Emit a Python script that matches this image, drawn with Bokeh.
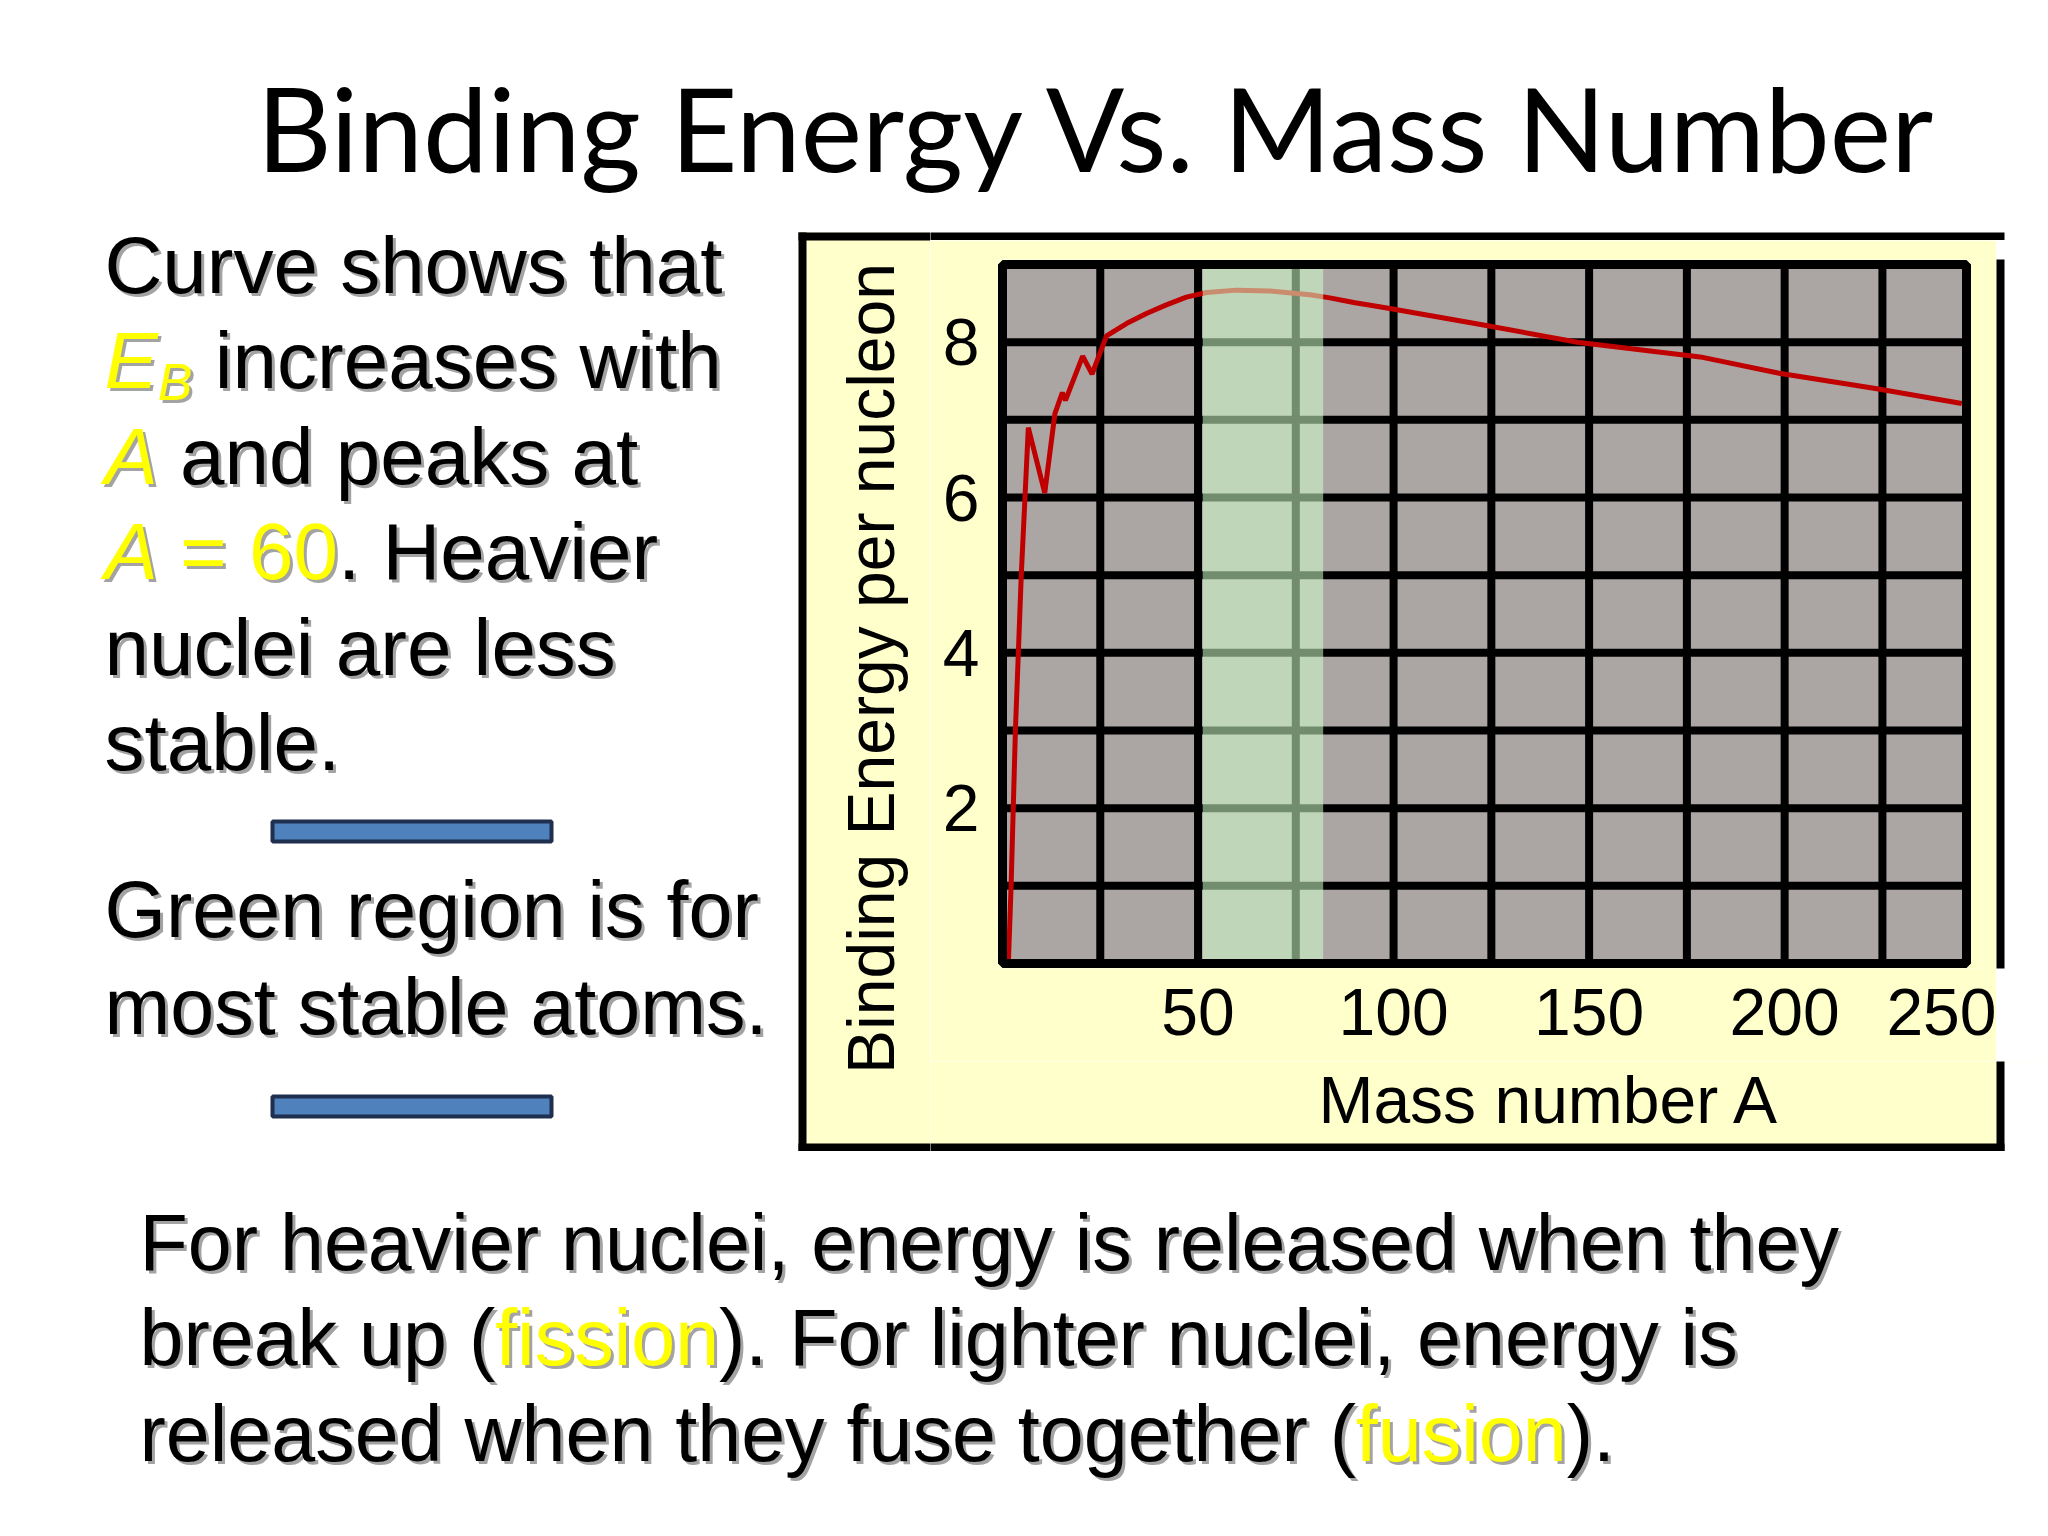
import math
from bokeh.plotting import figure
from bokeh.models import Range1d, FixedTicker, BoxAnnotation, Label
from bokeh.layouts import row, column
from bokeh.embed import file_html
from bokeh.resources import INLINE

# ---------------- data ----------------
MASS_NUMBER = [1.5, 2.2, 3.3, 4.8, 6.6, 10.8, 13.4, 15.3, 16.1, 20.5, 22.9,
               26.6, 31.7, 36.8, 41.9, 47.0, 52.2, 59.8, 68.4, 78.6, 83.7,
               89.8, 98.3, 123.0, 147.0, 178.4, 198.6, 223.6, 245.3]
BINDING_ENERGY = [0.0, 1.0, 3.0, 5.0, 6.9, 6.06, 7.08, 7.35, 7.25, 7.82, 7.59,
                  8.08, 8.24, 8.37, 8.48, 8.58, 8.64, 8.67, 8.66, 8.61, 8.57,
                  8.51, 8.44, 8.22, 8.0, 7.81, 7.60, 7.40, 7.21]
X_TICKS = [50, 100, 150, 200, 250]
Y_TICKS = [2, 4, 6, 8]
GRID_X = [25, 50, 75, 100, 125, 150, 175, 200, 225]
GRID_Y = [1, 2, 3, 4, 5, 6, 7, 8]
STABLE_REGION = [51.2, 82.0]
X_MAX = 246.5
Y_MAX = 9.0

TITLE = "Binding Energy Vs. Mass Number"
Y_LABEL = "Binding Energy per nucleon"
X_LABEL = "Mass number A"

BLACK = "#000000"
YELLOW = "#FFFF00"
LEFT_LINES = [
    [("Curve shows that", BLACK, "normal", 80, 0)],
    [("E", YELLOW, "italic", 80, 0), ("B", YELLOW, "italic", 52, 14), (" increases with", BLACK, "normal", 80, 0)],
    [("A", YELLOW, "italic", 80, 0), (" and peaks at", BLACK, "normal", 80, 0)],
    [("A", YELLOW, "italic", 80, 0), (" = 60", YELLOW, "normal", 80, 0), (". Heavier", BLACK, "normal", 80, 0)],
    [("nuclei are less", BLACK, "normal", 80, 0)],
    [("stable.", BLACK, "normal", 80, 0)],
]
GREEN_LINES = [
    [("Green region is for", BLACK, "normal", 79, 0)],
    [("most stable atoms.", BLACK, "normal", 79, 0)],
]
BOTTOM_LINES = [
    [("For heavier nuclei, energy is released when they", BLACK, "normal", 79, 0)],
    [("break up (", BLACK, "normal", 79, 0), ("fission", YELLOW, "normal", 79, 0), ("). For lighter nuclei, energy is", BLACK, "normal", 79, 0)],
    [("released when they fuse together (", BLACK, "normal", 79, 0), ("fusion", YELLOW, "normal", 79, 0), (").", BLACK, "normal", 79, 0)],
]

# ---------------- layout constants (page pixels) ----------------
PANEL_FILL = "#FFFFCC"
CELL_FILL = "#ABA6A4"
TEXT_FONT = "Liberation Sans"
SHADOW = "#8C8C8C"
# grid area of the chart: A=0..X_MAX -> x 1002..1966 ; E=0..Y_MAX -> y 963..264
GX0, GX1, GY0, GY1 = 1002, 1966, 963, 264
PXU_X = (GX1 - GX0) / X_MAX
PXU_Y = (GY0 - GY1) / Y_MAX
# yellow panel box (outer black edge) and border width
BX_L, BX_R, BX_T, BX_B, BW = 798, 2004, 232, 1151, 8
# chart canvas and frame
CH_L, CH_R, CH_T, CH_B = 930, 1996, BX_T + BW, 1061
FR_L, FR_R, FR_T, FR_B = 996, 1982, 259, 968
PAGE_W, MID_T, MID_B, PAGE_H = 2040, 210, 1180, 1530

ARIAL = {' ': 278, '.': 278, ',': 278, '(': 333, ')': 333, '=': 584,
         'A': 667, 'B': 667, 'C': 722, 'D': 722, 'E': 667, 'F': 611, 'G': 778, 'H': 722,
         'I': 278, 'M': 833, 'N': 722, 'S': 667, 'T': 611, 'V': 667,
         'a': 556, 'b': 556, 'c': 500, 'd': 556, 'e': 556, 'f': 278, 'g': 556, 'h': 556,
         'i': 222, 'j': 222, 'k': 500, 'l': 222, 'm': 833, 'n': 556, 'o': 556, 'p': 556,
         'q': 556, 'r': 333, 's': 500, 't': 278, 'u': 556, 'v': 500, 'w': 722, 'x': 500,
         'y': 500, 'z': 500}


def tw(s, size):
    return sum(ARIAL.get(c, 556) for c in s) * size / 1000.0


def base_shift(size):
    # Bokeh draws "alphabetic" text somewhat below the given y; compensate
    return 0.28 * size + 12


def canvas_fig(x0, y0, x1, y1, fill="white"):
    f = figure(width=x1 - x0, height=y1 - y0,
               x_range=Range1d(x0, x1), y_range=Range1d(y1, y0),
               x_axis_location=None, y_axis_location=None,
               output_backend="svg", toolbar_location=None,
               min_border=0)
    f.grid.visible = False
    f.outline_line_color = None
    f.background_fill_color = fill
    f.border_fill_color = fill
    return f


def rect(f, l, t, r, b, color):
    f.add_layout(BoxAnnotation(left=l, right=r, top=t, bottom=b, fill_color=color,
                               fill_alpha=1, line_color=None, level="underlay"))


def label(f, x, y, text, size, color=BLACK, style="normal", font=TEXT_FONT,
          align="left", angle=0.0, shadow=False):
    if angle:
        xx, yy = x - base_shift(size), y
    else:
        xx, yy = x, y - base_shift(size)
    if shadow:
        f.add_layout(Label(x=xx + 3, y=yy + 3, text=text, text_align=align,
                           text_baseline="alphabetic", text_font=font,
                           text_font_style=style, text_font_size=f"{size}px",
                           text_color=SHADOW, text_alpha=0.8, angle=angle))
    f.add_layout(Label(x=xx, y=yy, text=text, text_align=align, text_baseline="alphabetic",
                       text_font=font, text_font_style=style, text_font_size=f"{size}px",
                       text_color=color, angle=angle))


def place(f, lines, x0, y0, step):
    for i, segs in enumerate(lines):
        x = x0
        base = y0 + i * step
        for text, color, style, size, off in segs:
            stripped = text.lstrip(" ")
            x += (len(text) - len(stripped)) * 278 * size / 1000.0
            label(f, x, base + off, stripped, size, color, style, shadow=True)
            x += tw(stripped, size)


# ---------------- title strip ----------------
top_fig = canvas_fig(0, 0, PAGE_W, MID_T)
label(top_fig, 1098, 171, TITLE, 116, font="Lato", align="center")

# ---------------- left texts ----------------
text_fig = canvas_fig(0, MID_T, BX_L, MID_B)
for top in (821, 1096):
    text_fig.add_layout(BoxAnnotation(left=272, right=551, top=top, bottom=top + 20,
                                      fill_color="#4F81BD", fill_alpha=1, line_color="#1F2F4F",
                                      line_alpha=1, line_width=4, level="underlay"))
place(text_fig, LEFT_LINES, 104, 299, 95.5)
place(text_fig, GREEN_LINES, 104, 943, 97)

# ---------------- yellow panel, left part ----------------
white_top_small = canvas_fig(BX_L, MID_T, CH_L, BX_T)
white_bottom_small = canvas_fig(BX_L, BX_B, CH_L, MID_B)
panel_left = canvas_fig(BX_L, BX_T, CH_L, BX_B, fill=PANEL_FILL)
rect(panel_left, BX_L - 10, BX_T - 10, CH_L + 10, BX_T + BW, BLACK)
rect(panel_left, BX_L - 10, BX_B - BW, CH_L + 10, BX_B + 10, BLACK)
rect(panel_left, BX_L - 10, BX_T - 10, BX_L + BW, BX_B + 10, BLACK)
label(panel_left, 901, 668, Y_LABEL, 66, align="center", angle=math.pi / 2)

# ---------------- yellow panel, strips around the chart ----------------
top_strip = canvas_fig(CH_L, MID_T, PAGE_W, CH_T)
rect(top_strip, CH_L - 10, BX_T, BX_R, CH_T + 10, BLACK)

right_strip = canvas_fig(CH_R, CH_T, PAGE_W, CH_B)
rect(right_strip, CH_R - 10, CH_T - 10, BX_R, CH_B + 10, BLACK)

bottom_strip = canvas_fig(CH_L, CH_B, PAGE_W, BX_B, fill=PANEL_FILL)
rect(bottom_strip, BX_R, CH_B - 10, PAGE_W + 10, BX_B + 10, "white")
rect(bottom_strip, CH_L - 10, BX_B - BW, BX_R, BX_B + 10, BLACK)
rect(bottom_strip, BX_R - BW, CH_B - 10, BX_R, BX_B + 10, BLACK)
label(bottom_strip, 1549, 1130, X_LABEL, 66, align="center")

white_bottom = canvas_fig(CH_L, BX_B, PAGE_W, MID_B)

# ---------------- the chart ----------------
x_start = (FR_L - GX0) / PXU_X
x_end = (FR_R - GX0) / PXU_X
y_start = -(FR_B - GY0) / PXU_Y
y_end = Y_MAX + (GY1 - FR_T) / PXU_Y

p = figure(width=CH_R - CH_L, height=CH_B - CH_T,
           x_range=Range1d(x_start, x_end), y_range=Range1d(y_start, y_end),
           output_backend="svg", toolbar_location=None,
           min_border_left=FR_L - CH_L, min_border_right=CH_R - FR_R,
           min_border_top=FR_T - CH_T, min_border_bottom=CH_B - FR_B)
p.border_fill_color = PANEL_FILL
p.background_fill_color = PANEL_FILL
p.outline_line_color = None
p.grid.visible = False

p.add_layout(BoxAnnotation(left=0, right=X_MAX, bottom=0, top=Y_MAX,
                           fill_color=CELL_FILL, fill_alpha=1, line_color=None, level="image"))
p.segment(x0=GRID_X, y0=[0] * len(GRID_X), x1=GRID_X, y1=[Y_MAX] * len(GRID_X),
          line_color="black", line_width=8)
p.segment(x0=[0] * len(GRID_Y), y0=GRID_Y, x1=[X_MAX] * len(GRID_Y), y1=GRID_Y,
          line_color="black", line_width=8)

p.line(MASS_NUMBER, BINDING_ENERGY, line_color="#C00000", line_width=5)

p.add_layout(BoxAnnotation(left=STABLE_REGION[0], right=STABLE_REGION[1], bottom=0, top=Y_MAX,
                           fill_color="#D0FFC8", fill_alpha=0.55, line_color=None,
                           level="overlay"))
p.add_layout(BoxAnnotation(left=0, right=X_MAX, bottom=0, top=Y_MAX,
                           fill_color=None, line_color="black", line_alpha=1, line_width=9,
                           level="overlay"))

p.xaxis.ticker = FixedTicker(ticks=X_TICKS)
p.yaxis.ticker = FixedTicker(ticks=Y_TICKS)
for ax in (p.xaxis, p.yaxis):
    ax.axis_line_color = None
    ax.major_tick_line_color = None
    ax.minor_tick_line_color = None
    ax.major_label_text_font = TEXT_FONT
    ax.major_label_text_font_size = "66px"
    ax.major_label_text_color = "black"
p.xaxis.major_label_standoff = 14
p.yaxis.major_label_standoff = 11

# ---------------- bottom text ----------------
bottom_fig = canvas_fig(0, MID_B, PAGE_W, PAGE_H)
place(bottom_fig, BOTTOM_LINES, 139, 1276, 95.5)

left_panel_col = column(white_top_small, panel_left, white_bottom_small)
right_panel_col = column(top_strip, row(p, right_strip), bottom_strip, white_bottom)
layout = column(
    top_fig,
    row(text_fig, left_panel_col, right_panel_col),
    bottom_fig,
)

open("out.html", "w").write(file_html(layout, INLINE))
